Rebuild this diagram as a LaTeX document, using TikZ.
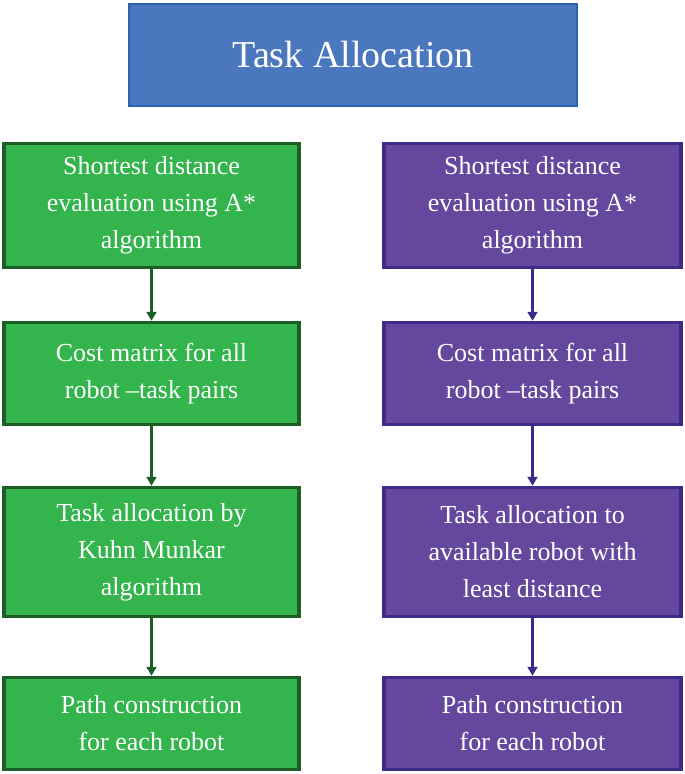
\documentclass[tikz,border=0pt]{standalone}
\usepackage{fontspec}
\setmainfont{Liberation Serif}
\usetikzlibrary{arrows.meta}
\definecolor{tfill}{HTML}{4A77BD}
\definecolor{tdraw}{HTML}{2A62B0}
\definecolor{gfill}{HTML}{33B44C}
\definecolor{gdraw}{HTML}{1B5E26}
\definecolor{pfill}{HTML}{65489E}
\definecolor{pdraw}{HTML}{3E2A88}
\begin{document}
\begin{tikzpicture}[x=1pt,y=-1pt,
 gbox/.style={draw=gdraw,fill=gfill,line width=3.5pt,text=white,font=\fontsize{26}{37}\selectfont,align=center,inner sep=0pt},
 pbox/.style={draw=pdraw,fill=pfill,line width=3.5pt,text=white,font=\fontsize{26}{37}\selectfont,align=center,inner sep=0pt},
 garr/.style={draw=gdraw,line width=2.5pt,-{Triangle[length=9pt,width=10pt]}},
 parr/.style={draw=pdraw,line width=2.5pt,-{Triangle[length=9pt,width=10pt]}}]
\useasboundingbox (0,0) rectangle (685,774);
\node[draw=tdraw,fill=tfill,line width=2.5pt,text=white,font=\fontsize{38}{44}\selectfont,minimum width=448pt,minimum height=102pt] (t) at (353,55) {Task Allocation};
% left
\node[gbox,minimum width=295pt,minimum height=124pt] (l1) at (151.5,205.5) {Shortest distance\\evaluation using A*\\algorithm};
\node[gbox,minimum width=295pt,minimum height=102pt] (l2) at (151.5,373.5) {Cost matrix for all\\robot \textendash task pairs};
\node[gbox,minimum width=295pt,minimum height=129pt] (l3) at (151.5,552) {Task allocation by\\Kuhn Munkar\\algorithm};
\node[gbox,minimum width=295pt,minimum height=92pt] (l4) at (151.5,723.5) {Path construction\\for each robot};
% right
\node[pbox,minimum width=297pt,minimum height=124pt] (r1) at (532.5,205.5) {Shortest distance\\evaluation using A*\\algorithm};
\node[pbox,minimum width=297pt,minimum height=102pt] (r2) at (532.5,373.5) {Cost matrix for all\\robot \textendash task pairs};
\node[pbox,minimum width=297pt,minimum height=129pt] (r3) at (532.5,552) {Task allocation to\\available robot with\\least distance};
\node[pbox,minimum width=297pt,minimum height=92pt] (r4) at (532.5,723.5) {Path construction\\for each robot};
\draw[garr] (l1) -- (l2);
\draw[garr] (l2) -- (l3);
\draw[garr] (l3) -- (l4);
\draw[parr] (r1) -- (r2);
\draw[parr] (r2) -- (r3);
\draw[parr] (r3) -- (r4);
\end{tikzpicture}
\end{document}
